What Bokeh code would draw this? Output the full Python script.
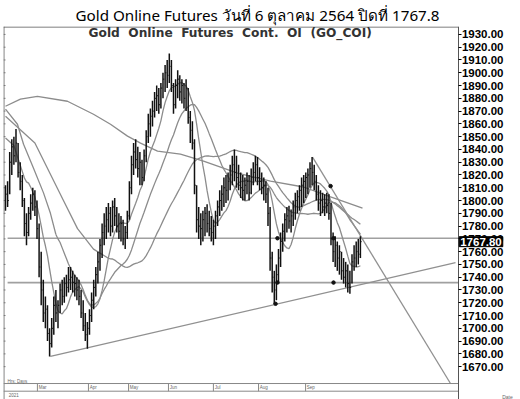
import pandas as pd
from bokeh.plotting import figure
from bokeh.models import Range1d, FixedTicker, Label, NumeralTickFormatter
from bokeh.embed import file_html
from bokeh.resources import INLINE
from bokeh.core.properties import value

title_text = "Gold Online Futures วันที่ 6 ตุลาคม 2564 ปิดที่ 1767.8"
chart_name = "Gold\u00a0 Online\u00a0 Futures\u00a0 Cont.\u00a0 OI\u00a0 (GO_COI)"
last_close = 1767.8

high = [1812,1815,1838,1848,1850,1856,1845,1830,1820,1802,
        1790,1795,1805,1810,1808,1800,1782,1760,1738,1725,
        1718,1700,1708,1725,1730,1722,1735,1738,1740,1742,
        1748,1748,1745,1742,1740,1738,1730,1722,1712,1705,
        1715,1728,1738,1748,1760,1770,1782,1790,1795,1798,
        1795,1800,1802,1795,1790,1788,1785,1780,1792,1815,
        1835,1845,1848,1842,1838,1832,1840,1855,1868,1872,
        1878,1885,1890,1888,1892,1900,1906,1910,1915,1910,
        1892,1895,1902,1898,1895,1892,1895,1888,1870,1862,
        1848,1812,1795,1790,1792,1795,1797,1792,1788,1785,
        1792,1800,1808,1812,1818,1820,1822,1828,1835,1840,
        1835,1828,1822,1820,1818,1822,1820,1825,1830,1835,
        1834,1826,1822,1818,1815,1810,1795,1760,1745,1750,
        1762,1775,1782,1790,1795,1796,1793,1800,1806,1808,
        1812,1818,1820,1822,1825,1830,1834,1828,1820,1812,
        1808,1806,1805,1806,1805,1798,1775,1772,1768,1765,
        1760,1755,1752,1750,1745,1758,1765,1768,1770,1772]
low = [1792,1795,1805,1820,1828,1830,1818,1808,1795,1772,
       1765,1772,1785,1792,1788,1770,1740,1718,1705,1700,
       1690,1678,1685,1695,1705,1700,1712,1718,1720,1725,
       1728,1730,1728,1725,1722,1718,1708,1698,1690,1684,
       1695,1705,1715,1725,1735,1745,1755,1765,1770,1775,
       1772,1775,1780,1775,1770,1768,1765,1762,1770,1785,
       1805,1820,1825,1818,1812,1812,1815,1830,1845,1850,
       1858,1865,1870,1868,1872,1880,1885,1888,1892,1885,
       1868,1872,1880,1878,1876,1872,1870,1860,1845,1840,
       1805,1775,1770,1765,1768,1772,1775,1772,1768,1765,
       1770,1780,1788,1792,1795,1798,1800,1808,1812,1815,
       1810,1808,1802,1800,1800,1805,1800,1805,1812,1815,
       1812,1808,1805,1800,1798,1780,1745,1728,1719,1722,
       1735,1748,1760,1768,1775,1778,1775,1780,1785,1790,
       1792,1795,1798,1802,1805,1810,1812,1808,1800,1792,
       1788,1790,1788,1790,1785,1765,1752,1748,1745,1742,
       1738,1735,1732,1728,1727,1735,1745,1748,1750,1755]
close = [1805,1800,1830,1842,1835,1845,1822,1815,1800,1782,
         1775,1790,1798,1805,1795,1778,1748,1730,1712,1715,
         1696,1688,1700,1718,1712,1718,1730,1725,1735,1732,
         1738,1740,1736,1735,1730,1725,1712,1702,1695,1700,
         1710,1722,1732,1742,1752,1765,1775,1780,1785,1790,
         1780,1795,1788,1780,1776,1782,1770,1775,1788,1810,
         1828,1838,1832,1825,1830,1818,1835,1850,1860,1866,
         1870,1880,1882,1875,1888,1895,1900,1898,1905,1890,
         1875,1890,1895,1885,1890,1880,1888,1865,1855,1845,
         1812,1785,1780,1778,1785,1790,1782,1778,1775,1780,
         1788,1795,1800,1805,1810,1808,1815,1820,1828,1822,
         1818,1812,1810,1808,1812,1815,1806,1818,1822,1828,
         1818,1815,1810,1812,1805,1790,1755,1740,1730,1742,
         1755,1768,1776,1785,1788,1784,1788,1795,1800,1803,
         1808,1812,1815,1818,1820,1825,1822,1815,1805,1798,
         1800,1795,1798,1796,1790,1770,1760,1765,1755,1760,
         1745,1740,1745,1735,1732,1752,1755,1760,1758,1767.8]

# moving averages: windows computed from the closes; the first part of each
# line (before its window fills) is read from the chart (bar index, price)
ma_windows = [10, 25, 50]
ma10_head_x = [0, 4, 9]
ma10_head_y = [1849, 1843, 1817.6]
ma25_head_x = [0, 5.7, 8.6, 13.3, 18.1, 21.4, 24]
ma25_head_y = [1871.5, 1859.7, 1844.1, 1825.4, 1806, 1790, 1773.4]
ma50_head_x = [0, 14, 27.6, 34.3, 41.9, 49]
ma50_head_y = [1866, 1845, 1800, 1778, 1762, 1754.8]
ma200_x = [0, 7.1, 15.2, 29.5, 41.9, 50, 58.1, 64.3, 72.4, 83.3, 94.3, 110.5, 126.2, 141.9, 154.8, 170]
ma200_y = [1873.8, 1879.3, 1881.6, 1877.7, 1867.5, 1859.7, 1850.4, 1844.9, 1838.7, 1836.3,
           1830.9, 1821.5, 1815.2, 1810.6, 1802.8, 1794.0]

months = ["Mar", "Apr", "May", "Jun", "Jul", "Aug", "Sep"]
month_bar = [15.2, 39.5, 58.6, 77.6, 99.0, 120.5, 142.9]

levels = [1770.5, 1735.8]
support_x = [21.4, 214.3]
support_y = [1678.0, 1751.4]
resist_x = [146.2, 211.9]
resist_y = [1834.0, 1656.8]
anchor_x = [128.6, 129.5, 129.5, 154.8, 156.2, 156.2]
anchor_y = [1719.2, 1735.8, 1770.5, 1811.3, 1770.5, 1735.8]

price_ticks = list(range(1670, 1931, 10))

n = len(close)
idx = list(range(n))

X0, X1 = -0.95, 245.24      # whole width, so the price box can sit right of the chart
CHART_END = 215.7           # where the price scale sits
Y0, Y1 = 1644.3, 1936.2

p = figure(width=520, height=399, output_backend="svg", toolbar_location=None,
           x_range=Range1d(X0, X1), y_range=Range1d(Y0, Y1),
           x_axis_location=None, y_axis_location="left",
           min_border_left=3, min_border_right=0, min_border_top=0, min_border_bottom=0)
p.grid.visible = False
p.background_fill_color = "white"
p.border_fill_color = "white"
p.outline_line_color = None

p.title.text = title_text
p.title.text_font = "Noto Sans"
p.title.text_font_size = "15.2px"
p.title.text_font_style = "normal"
p.title.text_color = "black"
p.title.align = "left"
p.title.offset = 72
p.title.standoff = 4

# price scale at the right end of the chart, labels to its right
ax = p.yaxis[0]
ax.fixed_location = CHART_END
ax.ticker = FixedTicker(ticks=price_ticks)
ax.formatter = NumeralTickFormatter(format="0.00")
ax.major_label_text_font = "Liberation Sans"
ax.major_label_text_font_style = "bold"
ax.major_label_text_font_size = "11.5px"
ax.major_label_text_color = "black"
ax.major_tick_in = 3
ax.major_tick_out = 0
ax.minor_tick_in = 0
ax.minor_tick_out = 0
ax.major_label_standoff = -45
ax.axis_line_color = "#555555"

# chart border (top and left) with small marks at the price ticks
p.line([X0, CHART_END], [Y1 - 0.4, Y1 - 0.4], line_color="#555555", line_width=1)
p.line([X0 + 0.2, X0 + 0.2], [Y0, Y1], line_color="#555555", line_width=1)
p.segment(x0=[X0] * len(price_ticks), y0=price_ticks, x1=[0.0] * len(price_ticks), y1=price_ticks,
          line_color="#777777", line_width=1)

# horizontal levels
for lv in levels:
    p.line([1, CHART_END], [lv, lv], line_color="#a0a0a0", line_width=1.6)

# moving averages
ma_color = "#8c8c8c"
s = pd.Series(close)
for w in ma_windows:
    p.line(idx, s.rolling(w, min_periods=w).mean().tolist(), line_color=ma_color, line_width=1.3)
p.line(ma10_head_x, ma10_head_y, line_color=ma_color, line_width=1.3)
p.line(ma25_head_x, ma25_head_y, line_color=ma_color, line_width=1.3)
p.line(ma50_head_x, ma50_head_y, line_color=ma_color, line_width=1.3)
p.line(ma200_x, ma200_y, line_color=ma_color, line_width=1.3)

# trend lines
p.line(support_x, support_y, line_color="#909090", line_width=1.3)
p.line(resist_x, resist_y, line_color="#909090", line_width=1.3)

# bars
p.segment(x0=idx, y0=low, x1=idx, y1=high, line_color="#111111", line_width=1.5)
p.segment(x0=idx, y0=close, x1=[i + 0.6 for i in idx], y1=close, line_color="#111111", line_width=1)

# anchor dots
p.scatter(anchor_x, anchor_y, size=3.5, color="#111111")

# chart name
p.add_layout(Label(x=107, y=1930.8, text=chart_name, text_align="center", text_baseline="middle",
                   text_font="DejaVu Sans", text_font_style="bold", text_font_size="12.2px",
                   text_color="#333333"))

# last price box on the price scale
p.add_layout(Label(x=CHART_END + 0.35, y=last_close, text="1767.80", text_align="left",
                   text_baseline="middle", padding=1,
                   text_font="Liberation Sans", text_font_style="bold", text_font_size="11.5px",
                   text_color="white", background_fill_color="black", border_line_color="black"))
p.add_layout(Label(x=236.5, y=1646.6, text="Date", text_align="left", text_baseline="middle",
                   text_font="Liberation Sans", text_font_size="5px", text_color="#666666"))

# date strip
p.line([X0, CHART_END], [1656.8, 1656.8], line_color="#888888", line_width=1)
p.line([X0, CHART_END], [1650.8, 1650.8], line_color="#888888", line_width=1)
for mb, mn in zip(month_bar, months):
    p.line([mb, mb], [1650.8, 1656.8], line_color="#888888", line_width=1)
    p.text(x=[mb + 0.6], y=[1653.8], text=[mn], text_font=value("Liberation Sans"),
           text_font_size="4.5px", text_color="#666666", text_baseline="middle")
p.text(x=[1.0], y=[1658.6], text=["Hrs: Days"], text_font=value("Liberation Sans"),
       text_font_size="4.5px", text_color="#666666", text_baseline="middle")
p.text(x=[1.5], y=[1648.0], text=["2021"], text_font=value("Liberation Sans"),
       text_font_size="4.5px", text_color="#666666", text_baseline="middle")

open("out.html", "w").write(file_html(p, INLINE))
